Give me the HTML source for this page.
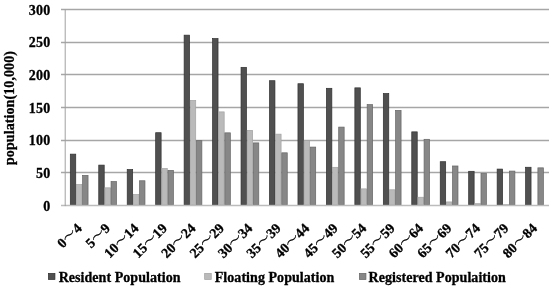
<!DOCTYPE html><html><head><meta charset="utf-8"><style>html,body{margin:0;padding:0;background:#fff;}svg{display:block;}text{font-family:"Liberation Serif","Noto Serif CJK SC",serif;font-weight:bold;font-size:14px;fill:#000;stroke:#000;stroke-width:0.3px;} .t{font-family:"Noto Serif CJK SC",serif;font-weight:normal;}</style></head><body>
<svg width="553" height="288" viewBox="0 0 553 288">
<rect width="553" height="288" fill="#fff"/>
<line x1="61" y1="172.50" x2="549.00" y2="172.50" stroke="#a6a6a6" stroke-width="1.4"/>
<line x1="61" y1="140.50" x2="549.00" y2="140.50" stroke="#a6a6a6" stroke-width="1.4"/>
<line x1="61" y1="107.50" x2="549.00" y2="107.50" stroke="#a6a6a6" stroke-width="1.4"/>
<line x1="61" y1="74.50" x2="549.00" y2="74.50" stroke="#a6a6a6" stroke-width="1.4"/>
<line x1="61" y1="42.50" x2="549.00" y2="42.50" stroke="#a6a6a6" stroke-width="1.4"/>
<line x1="61" y1="9.50" x2="549.00" y2="9.50" stroke="#a6a6a6" stroke-width="1.4"/>
<rect x="70.30" y="154.13" width="5.45" height="50.87" fill="#505050" stroke="#303030" stroke-width="0.7"/>
<rect x="76.45" y="184.49" width="5.45" height="20.51" fill="#bababa" stroke="#a2a2a2" stroke-width="0.7"/>
<rect x="82.60" y="175.35" width="5.45" height="29.65" fill="#878787" stroke="#666666" stroke-width="0.7"/>
<rect x="98.76" y="165.10" width="5.45" height="39.90" fill="#505050" stroke="#303030" stroke-width="0.7"/>
<rect x="104.91" y="187.82" width="5.45" height="17.18" fill="#bababa" stroke="#a2a2a2" stroke-width="0.7"/>
<rect x="111.06" y="181.55" width="5.45" height="23.45" fill="#878787" stroke="#666666" stroke-width="0.7"/>
<rect x="127.21" y="169.54" width="5.45" height="35.46" fill="#505050" stroke="#303030" stroke-width="0.7"/>
<rect x="133.36" y="194.48" width="5.45" height="10.52" fill="#bababa" stroke="#a2a2a2" stroke-width="0.7"/>
<rect x="139.51" y="180.77" width="5.45" height="24.23" fill="#878787" stroke="#666666" stroke-width="0.7"/>
<rect x="155.67" y="132.71" width="5.45" height="72.29" fill="#505050" stroke="#303030" stroke-width="0.7"/>
<rect x="161.82" y="168.56" width="5.45" height="36.44" fill="#bababa" stroke="#a2a2a2" stroke-width="0.7"/>
<rect x="167.97" y="170.39" width="5.45" height="34.61" fill="#878787" stroke="#666666" stroke-width="0.7"/>
<rect x="184.12" y="35.15" width="5.45" height="169.85" fill="#505050" stroke="#303030" stroke-width="0.7"/>
<rect x="190.27" y="100.39" width="5.45" height="104.61" fill="#bababa" stroke="#a2a2a2" stroke-width="0.7"/>
<rect x="196.42" y="140.68" width="5.45" height="64.32" fill="#878787" stroke="#666666" stroke-width="0.7"/>
<rect x="212.58" y="38.55" width="5.45" height="166.45" fill="#505050" stroke="#303030" stroke-width="0.7"/>
<rect x="218.73" y="111.88" width="5.45" height="93.12" fill="#bababa" stroke="#a2a2a2" stroke-width="0.7"/>
<rect x="224.88" y="132.84" width="5.45" height="72.16" fill="#878787" stroke="#666666" stroke-width="0.7"/>
<rect x="241.04" y="67.34" width="5.45" height="137.66" fill="#505050" stroke="#303030" stroke-width="0.7"/>
<rect x="247.19" y="130.36" width="5.45" height="74.64" fill="#bababa" stroke="#a2a2a2" stroke-width="0.7"/>
<rect x="253.34" y="142.90" width="5.45" height="62.10" fill="#878787" stroke="#666666" stroke-width="0.7"/>
<rect x="269.49" y="80.70" width="5.45" height="124.30" fill="#505050" stroke="#303030" stroke-width="0.7"/>
<rect x="275.64" y="134.15" width="5.45" height="70.85" fill="#bababa" stroke="#a2a2a2" stroke-width="0.7"/>
<rect x="281.79" y="152.82" width="5.45" height="52.18" fill="#878787" stroke="#666666" stroke-width="0.7"/>
<rect x="297.95" y="83.73" width="5.45" height="121.27" fill="#505050" stroke="#303030" stroke-width="0.7"/>
<rect x="304.10" y="140.51" width="5.45" height="64.49" fill="#bababa" stroke="#a2a2a2" stroke-width="0.7"/>
<rect x="310.25" y="147.08" width="5.45" height="57.92" fill="#878787" stroke="#666666" stroke-width="0.7"/>
<rect x="326.40" y="88.31" width="5.45" height="116.69" fill="#505050" stroke="#303030" stroke-width="0.7"/>
<rect x="332.55" y="167.32" width="5.45" height="37.68" fill="#bababa" stroke="#a2a2a2" stroke-width="0.7"/>
<rect x="338.70" y="127.09" width="5.45" height="77.91" fill="#878787" stroke="#666666" stroke-width="0.7"/>
<rect x="354.86" y="87.85" width="5.45" height="117.15" fill="#505050" stroke="#303030" stroke-width="0.7"/>
<rect x="361.01" y="188.87" width="5.45" height="16.13" fill="#bababa" stroke="#a2a2a2" stroke-width="0.7"/>
<rect x="367.16" y="104.63" width="5.45" height="100.37" fill="#878787" stroke="#666666" stroke-width="0.7"/>
<rect x="383.32" y="93.53" width="5.45" height="111.47" fill="#505050" stroke="#303030" stroke-width="0.7"/>
<rect x="389.47" y="189.78" width="5.45" height="15.22" fill="#bababa" stroke="#a2a2a2" stroke-width="0.7"/>
<rect x="395.62" y="110.38" width="5.45" height="94.62" fill="#878787" stroke="#666666" stroke-width="0.7"/>
<rect x="411.77" y="131.86" width="5.45" height="73.14" fill="#505050" stroke="#303030" stroke-width="0.7"/>
<rect x="417.92" y="197.23" width="5.45" height="7.77" fill="#bababa" stroke="#a2a2a2" stroke-width="0.7"/>
<rect x="424.07" y="139.31" width="5.45" height="65.69" fill="#878787" stroke="#666666" stroke-width="0.7"/>
<rect x="440.23" y="161.70" width="5.45" height="43.30" fill="#505050" stroke="#303030" stroke-width="0.7"/>
<rect x="446.38" y="201.93" width="5.45" height="3.07" fill="#bababa" stroke="#a2a2a2" stroke-width="0.7"/>
<rect x="452.53" y="165.98" width="5.45" height="39.02" fill="#878787" stroke="#666666" stroke-width="0.7"/>
<rect x="468.68" y="171.30" width="5.45" height="33.70" fill="#505050" stroke="#303030" stroke-width="0.7"/>
<rect x="474.83" y="203.69" width="5.45" height="1.31" fill="#bababa" stroke="#a2a2a2" stroke-width="0.7"/>
<rect x="480.98" y="173.46" width="5.45" height="31.54" fill="#878787" stroke="#666666" stroke-width="0.7"/>
<rect x="497.14" y="169.08" width="5.45" height="35.92" fill="#505050" stroke="#303030" stroke-width="0.7"/>
<rect x="503.29" y="204.67" width="5.45" height="0.33" fill="#bababa" stroke="#a2a2a2" stroke-width="0.7"/>
<rect x="509.44" y="171.07" width="5.45" height="33.93" fill="#878787" stroke="#666666" stroke-width="0.7"/>
<rect x="525.60" y="167.25" width="5.45" height="37.75" fill="#505050" stroke="#303030" stroke-width="0.7"/>
<rect x="537.90" y="167.84" width="5.45" height="37.16" fill="#878787" stroke="#666666" stroke-width="0.7"/>
<line x1="61" y1="205.5" x2="549.00" y2="205.5" stroke="#bcbcbc" stroke-width="1.4"/>
<line x1="65.2" y1="9.10" x2="65.2" y2="206.10" stroke="#a0a0a0" stroke-width="1"/>
<text x="50.55" y="210.50" text-anchor="end" letter-spacing="0.25">0</text>
<text x="50.55" y="177.83" text-anchor="end" letter-spacing="0.25">50</text>
<text x="50.55" y="145.17" text-anchor="end" letter-spacing="0.25">100</text>
<text x="50.55" y="112.50" text-anchor="end" letter-spacing="0.25">150</text>
<text x="50.55" y="79.83" text-anchor="end" letter-spacing="0.25">200</text>
<text x="50.55" y="47.17" text-anchor="end" letter-spacing="0.25">250</text>
<text x="50.55" y="14.50" text-anchor="end" letter-spacing="0.25">300</text>
<text transform="translate(14.4,108) rotate(-90)" text-anchor="middle" letter-spacing="0.09">population(10,000)</text>
<text transform="translate(82.58,229.00) rotate(-45)" text-anchor="end">0<tspan class="t">～</tspan>4</text>
<text transform="translate(111.03,229.00) rotate(-45)" text-anchor="end">5<tspan class="t">～</tspan>9</text>
<text transform="translate(139.49,229.00) rotate(-45)" text-anchor="end">10<tspan class="t">～</tspan>14</text>
<text transform="translate(167.95,229.00) rotate(-45)" text-anchor="end">15<tspan class="t">～</tspan>19</text>
<text transform="translate(196.40,229.00) rotate(-45)" text-anchor="end">20<tspan class="t">～</tspan>24</text>
<text transform="translate(224.86,229.00) rotate(-45)" text-anchor="end">25<tspan class="t">～</tspan>29</text>
<text transform="translate(253.31,229.00) rotate(-45)" text-anchor="end">30<tspan class="t">～</tspan>34</text>
<text transform="translate(281.77,229.00) rotate(-45)" text-anchor="end">35<tspan class="t">～</tspan>39</text>
<text transform="translate(310.23,229.00) rotate(-45)" text-anchor="end">40<tspan class="t">～</tspan>44</text>
<text transform="translate(338.68,229.00) rotate(-45)" text-anchor="end">45<tspan class="t">～</tspan>49</text>
<text transform="translate(367.14,229.00) rotate(-45)" text-anchor="end">50<tspan class="t">～</tspan>54</text>
<text transform="translate(395.59,229.00) rotate(-45)" text-anchor="end">55<tspan class="t">～</tspan>59</text>
<text transform="translate(424.05,229.00) rotate(-45)" text-anchor="end">60<tspan class="t">～</tspan>64</text>
<text transform="translate(452.51,229.00) rotate(-45)" text-anchor="end">65<tspan class="t">～</tspan>69</text>
<text transform="translate(480.96,229.00) rotate(-45)" text-anchor="end">70<tspan class="t">～</tspan>74</text>
<text transform="translate(509.42,229.00) rotate(-45)" text-anchor="end">75<tspan class="t">～</tspan>79</text>
<text transform="translate(537.87,229.00) rotate(-45)" text-anchor="end">80<tspan class="t">～</tspan>84</text>
<rect x="48.35" y="273.35" width="6.6" height="6.2" fill="#505050" stroke="#303030" stroke-width="0.7"/>
<text x="58.65" y="281.6" letter-spacing="0.05">Resident Population</text>
<rect x="204.65" y="273.35" width="6.6" height="6.2" fill="#bababa" stroke="#a2a2a2" stroke-width="0.7"/>
<text x="214.75" y="281.6" letter-spacing="0.05">Floating Population</text>
<rect x="359.35" y="273.35" width="6.6" height="6.2" fill="#878787" stroke="#666666" stroke-width="0.7"/>
<text x="368.54999999999995" y="281.6" letter-spacing="0.05">Registered Populaition</text>
</svg></body></html>
